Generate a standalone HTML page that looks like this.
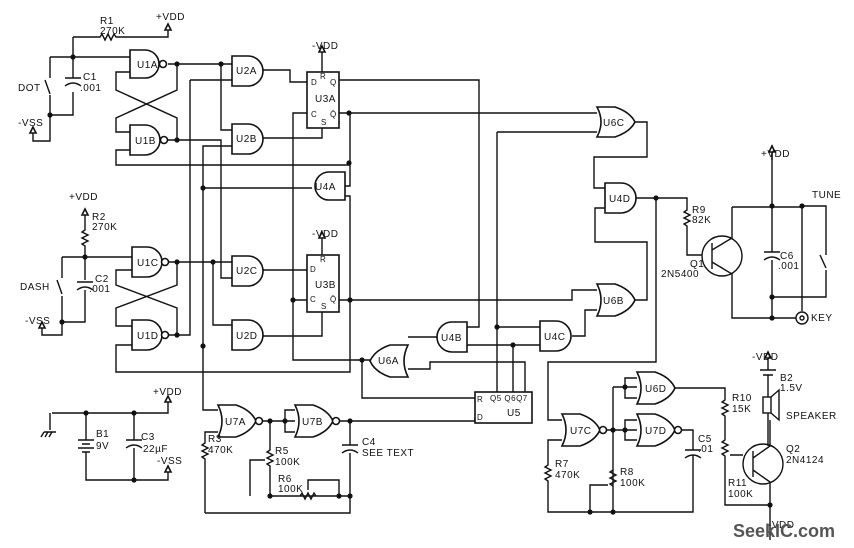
<!DOCTYPE html>
<html><head><meta charset="utf-8"><style>
html,body{margin:0;padding:0;background:#fff;}
svg{display:block;}
text{font-family:"Liberation Sans",sans-serif;font-size:10px;fill:#111;letter-spacing:0.5px;}
.w{fill:none;stroke:#111;stroke-width:1.4;}
.g{fill:#fff;stroke:#111;stroke-width:1.6;}
</style></head><body>
<svg width="854" height="548" viewBox="0 0 854 548" xmlns="http://www.w3.org/2000/svg">
<g class="w">
<!-- DOT section -->
<path d="M73,37 H100 l2,-3 3,6 3,-6 3,6 3,-6 2,3 H168 V30"/>
<path d="M73,37 V57 M50,57 H130 M50,57 V78 M50,95 V115 H73 V92 M73,57 V78 M50,115 V141 H33 V133"/>
<path d="M45,80 L50,94"/>
<path d="M65,78 H81 M65,86 Q73,80 81,86"/>
<!-- cross coupling U1A/U1B -->
<path d="M130,72 H116 V90 L177,118 V140 M177,64 V90 L116,118 V132 H130 M130,150 H116 V165 H350"/>
<path d="M168,64 H232 M221,64 V130 H232 M263,70 H290 V82 H307"/>
<path d="M168,140 H221 V278 H232 M263,138 H322 V128"/>
<path d="M190,80 H232 M190,80 V335 H168"/>
<path d="M232,146 H203 V410 H218 M203,188 H312"/>
<path d="M345,186 H350 V113 M339,113 H597 M339,80 H479 V327 H467"/>
<path d="M345,196 H350 V300"/>
<path d="M307,113 H293 V360 H370 M293,300 H307"/>
<!-- DASH section -->
<path d="M85,215 V230 l-3,2 6,3 -6,3 6,3 -6,3 3,2 V257 M62,257 H132 M62,257 V278 M62,296 V322 H85 V290 M85,257 V280 M62,322 V335 H42 V328"/>
<path d="M57,280 L62,294"/>
<path d="M77,282 H93 M77,290 Q85,284 93,290"/>
<path d="M132,270 H116 V285 L177,308 V335 M177,262 V285 L116,308 V326 H132 M132,345 H116 V372 H350 V300"/>
<path d="M168,262 H232 M213,262 V325 H232 M263,270 H307 M263,336 H322 V312"/>
<path d="M339,300 H572 V290 H597"/>
<!-- U6A, U4B, U4C, U5 -->
<path d="M362,360 V398 H475 M408,337 H437 M408,369 H430 V362 H525 V392"/>
<path d="M467,345 H540 M513,345 V392 M497,132 H597 M497,132 V392 M497,327 H540"/>
<path d="M572,336 H585 V310 H597"/>
<!-- U6C/U4D/U6B chain -->
<path d="M635,122 H647 V157 H594 V188 H605 M605,208 H595 V242 H647 V300 H635"/>
<path d="M636,198 H687 V210 l-3,2 6,3 -6,3 6,3 -6,3 3,2 V255 H702 M656,198 V362 H548 V420 H562"/>
<!-- Q1 -->
<circle cx="722" cy="256" r="20"/>
<path d="M712,243 V269 M712,250 L732,238 V207 M712,262 L732,274 V318 H796 M732,207 H802 M772,150 V252 M764,252 H780 M764,260 Q772,254 780,260 M772,260 V318 M772,297 H826 V270 M826,255 V206 H802 V311 M820,255 L826,268"/>
<path d="M772,160 V145"/>
<circle cx="802" cy="318" r="6"/>
<circle cx="802" cy="318" r="2"/>
<!-- U7A/U7B oscillator -->
<path d="M261,421 H295 M285,421 V432 H295 M285,421 V410 H295 M338,421 H475 V418 M350,421 V445 M342,445 H358 M342,453 Q350,447 358,453 M350,453 V513 H205 M218,432 H205 V443 l-3,2 6,3 -6,3 6,3 -6,3 3,2 V513"/>
<path d="M270,421 V450 l-3,2 6,3 -6,3 6,3 -6,3 3,2 V496 H350 M250,496 V460 H265 M300,496 l2,-3 3,6 3,-6 3,6 3,-6 2,3 M308,490 V480 H339 V496"/>
<!-- battery -->
<path d="M52,413 H168 V402 M50,413 V430 M44,432 H56 M44,432 l-3,5 M48,432 l-3,5 M52,432 l-3,5 M86,413 V440 M78,440 H94 M82,444 H90 M78,448 H94 M82,452 H90 M86,452 V480 H168 V472 M134,413 V440 M126,440 H142 M126,448 Q134,442 142,448 M134,448 V480"/>
<!-- U7C/U7D/U6D -->
<path d="M606,430 H637 M613,387 V512 M613,387 H637 M625,387 V378 H637 M625,387 V398 H637 M625,430 V420 H637 M625,430 V440 H637 M562,440 H548 V465 l-3,2 6,3 -6,3 6,3 -6,3 3,2 V512 H693 V455 M681,430 H693 V450 M685,450 H701 M685,458 Q693,452 701,458 M590,512 V485 H608 M613,470 l-3,2 6,3 -6,3 6,3 -6,3 3,2"/>
<path d="M675,388 H725 V400 l-3,2 6,3 -6,3 6,3 -6,3 3,2 V440 l-3,2 6,3 -6,3 6,3 -6,3 3,2 V505 H770 M730,455 H743"/>
<circle cx="763" cy="464" r="20"/>
<path d="M753,451 V477 M753,458 L770,446 V420 M753,470 L770,482 V540 M768,370 V360 M760,370 H776 M763,375 H773 M768,375 V397"/>
<rect x="763" y="397" width="8" height="16"/>
<path d="M771,397 L779,390 V420 L771,413 M768,413 V446"/>
<path d="M768,360 V352"/>
</g>
<!-- arrows (supply symbols) -->
<g class="g">
<path d="M165,30 L168,24 L171,30 Z M319,52 L322,46 L325,52 Z M319,238 L322,232 L325,238 Z M82,215 L85,209 L88,215 Z M30,133 L33,127 L36,133 Z M39,328 L42,322 L45,328 Z M165,402 L168,396 L171,402 Z M165,472 L168,466 L171,472 Z M769,152 L772,146 L775,152 Z M765,358 L768,352 L771,358 Z"/>
</g>
<path class="w" d="M322,52 V72 M322,238 V255"/>
<!-- gates -->
<g class="g">
<path d="M130,50 H145 A14,14 0 0 1 145,78 H130 Z"/><circle cx="163" cy="64" r="3.5"/>
<path d="M130,125 H145 A15,15 0 0 1 145,155 H130 Z"/><circle cx="164" cy="140" r="3.5"/>
<path d="M132,247 H147 A15,15 0 0 1 147,277 H132 Z"/><circle cx="165" cy="262" r="3.5"/>
<path d="M132,320 H147 A15,15 0 0 1 147,350 H132 Z"/><circle cx="165" cy="335" r="3.5"/>
<path d="M232,56 H248 A15,15 0 0 1 248,86 H232 Z"/>
<path d="M232,124 H248 A15,15 0 0 1 248,154 H232 Z"/>
<path d="M232,256 H248 A15,15 0 0 1 248,286 H232 Z"/>
<path d="M232,320 H248 A15,15 0 0 1 248,350 H232 Z"/>
<path d="M345,172 H329 A14,14 0 0 0 329,200 H345 Z"/>
<path d="M467,322 H452 A15,15 0 0 0 452,352 H467 Z"/>
<path d="M540,321 H556 A15,15 0 0 1 556,351 H540 Z"/>
<path d="M605,183 H621 A15,15 0 0 1 621,213 H605 Z"/>
<path d="M408,345 Q400,361 408,377 H390 Q375,372 370,361 Q375,350 390,345 Z"/>
<path d="M597,107 Q605,122 597,137 H615 Q630,132 635,122 Q630,112 615,107 Z"/>
<path d="M597,284 Q605,300 597,316 H615 Q630,311 635,300 Q630,289 615,284 Z"/>
<path d="M218,405 Q226,421 218,437 H236 Q251,432 256,421 Q251,410 236,405 Z"/><circle cx="259" cy="421" r="3.5"/>
<path d="M295,405 Q303,421 295,437 H313 Q328,432 333,421 Q328,410 313,405 Z"/><circle cx="336" cy="421" r="3.5"/>
<path d="M562,414 Q570,430 562,446 H580 Q595,441 600,430 Q595,419 580,414 Z"/><circle cx="603" cy="430" r="3.5"/>
<path d="M637,372 Q645,388 637,404 H655 Q670,399 675,388 Q670,377 655,372 Z"/>
<path d="M637,414 Q645,430 637,446 H655 Q670,441 675,430 Q670,419 655,414 Z"/><circle cx="678" cy="430" r="3.5"/>
<rect x="307" y="72" width="32" height="56"/>
<rect x="307" y="255" width="32" height="57"/>
<rect x="475" y="392" width="57" height="31"/>
</g>
<!-- nodes -->
<g fill="#111">
<circle cx="73" cy="57" r="2.6"/><circle cx="50" cy="115" r="2.6"/><circle cx="177" cy="64" r="2.6"/><circle cx="221" cy="64" r="2.6"/><circle cx="177" cy="140" r="2.6"/><circle cx="349" cy="113" r="2.6"/><circle cx="349" cy="163" r="2.6"/><circle cx="203" cy="188" r="2.6"/>
<circle cx="85" cy="257" r="2.6"/><circle cx="62" cy="322" r="2.6"/><circle cx="177" cy="262" r="2.6"/><circle cx="213" cy="262" r="2.6"/><circle cx="177" cy="335" r="2.6"/><circle cx="293" cy="300" r="2.6"/><circle cx="350" cy="300" r="2.6"/><circle cx="203" cy="346" r="2.6"/><circle cx="362" cy="360" r="2.6"/>
<circle cx="497" cy="327" r="2.6"/><circle cx="513" cy="345" r="2.6"/><circle cx="656" cy="198" r="2.6"/>
<circle cx="772" cy="206" r="2.6"/><circle cx="802" cy="206" r="2.6"/><circle cx="772" cy="297" r="2.6"/><circle cx="772" cy="318" r="2.6"/>
<circle cx="86" cy="413" r="2.6"/><circle cx="134" cy="413" r="2.6"/><circle cx="134" cy="480" r="2.6"/>
<circle cx="270" cy="421" r="2.6"/><circle cx="285" cy="421" r="2.6"/><circle cx="350" cy="421" r="2.6"/><circle cx="270" cy="496" r="2.6"/><circle cx="339" cy="496" r="2.6"/><circle cx="350" cy="496" r="2.6"/>
<circle cx="613" cy="430" r="2.6"/><circle cx="625" cy="430" r="2.6"/><circle cx="625" cy="387" r="2.6"/><circle cx="590" cy="512" r="2.6"/><circle cx="613" cy="512" r="2.6"/><circle cx="770" cy="505" r="2.6"/>
</g>
<!-- labels -->
<text x="100" y="24">R1</text><text x="100" y="34">270K</text><text x="156" y="20">+VDD</text>
<text x="83" y="80">C1</text><text x="80" y="91">.001</text><text x="18" y="91">DOT</text><text x="18" y="126">-VSS</text>
<text x="137" y="68">U1A</text><text x="135" y="144">U1B</text><text x="236" y="74">U2A</text><text x="236" y="142">U2B</text>
<text x="312" y="49">-VDD</text><text x="311" y="85" style="font-size:8px">D</text><text x="320" y="79" style="font-size:8px">R</text><text x="330" y="85" style="font-size:8px">Q</text><text x="315" y="102">U3A</text><text x="311" y="117" style="font-size:8px">C</text><text x="330" y="117" style="font-size:8px">Q̄</text><text x="321" y="125" style="font-size:8px">S</text>
<text x="315" y="190">U4A</text>
<text x="69" y="200">+VDD</text><text x="92" y="220">R2</text><text x="92" y="230">270K</text><text x="95" y="282">C2</text><text x="89" y="292">.001</text><text x="20" y="290">DASH</text><text x="25" y="324">-VSS</text>
<text x="137" y="266">U1C</text><text x="137" y="339">U1D</text><text x="236" y="274">U2C</text><text x="236" y="339">U2D</text>
<text x="312" y="237">-VDD</text><text x="310" y="272" style="font-size:8px">D</text><text x="320" y="262" style="font-size:8px">R</text><text x="315" y="288">U3B</text><text x="310" y="302" style="font-size:8px">C</text><text x="330" y="302" style="font-size:8px">Q̄</text><text x="321" y="309" style="font-size:8px">S</text>
<text x="378" y="364">U6A</text><text x="441" y="341">U4B</text><text x="544" y="340">U4C</text>
<text x="477" y="402" style="font-size:8px">R</text><text x="490" y="401" style="font-size:8px">Q5 Q6Q7</text><text x="477" y="420" style="font-size:8px">D</text><text x="507" y="416">U5</text>
<text x="603" y="126">U6C</text><text x="609" y="202">U4D</text><text x="603" y="304">U6B</text>
<text x="692" y="213">R9</text><text x="692" y="223">82K</text><text x="690" y="267">Q1</text><text x="661" y="277">2N5400</text>
<text x="761" y="157">+VDD</text><text x="812" y="198">TUNE</text><text x="780" y="259">C6</text><text x="778" y="269">.001</text><text x="811" y="321">KEY</text>
<text x="153" y="395">+VDD</text><text x="96" y="437">B1</text><text x="96" y="449">9V</text><text x="141" y="440">C3</text><text x="143" y="452">22µF</text><text x="157" y="464">-VSS</text>
<text x="225" y="425">U7A</text><text x="302" y="425">U7B</text><text x="208" y="442">R3</text><text x="208" y="453">470K</text>
<text x="275" y="454">R5</text><text x="275" y="465">100K</text><text x="278" y="482">R6</text><text x="278" y="492">100K</text>
<text x="362" y="445">C4</text><text x="362" y="456">SEE TEXT</text>
<text x="570" y="434">U7C</text><text x="645" y="392">U6D</text><text x="645" y="434">U7D</text>
<text x="555" y="467">R7</text><text x="555" y="478">470K</text><text x="620" y="475">R8</text><text x="620" y="486">100K</text>
<text x="698" y="442">C5</text><text x="698" y="452">.01</text>
<text x="732" y="401">R10</text><text x="732" y="412">15K</text><text x="728" y="486">R11</text><text x="728" y="497">100K</text>
<text x="752" y="360">-VDD</text><text x="780" y="381">B2</text><text x="780" y="391">1.5V</text><text x="786" y="419">SPEAKER</text>
<text x="786" y="452">Q2</text><text x="786" y="463">2N4124</text><text x="768" y="528">-VDD</text>
<text x="733" y="537" style="font-size:18px;font-weight:bold;fill:#555;letter-spacing:0">SeekIC.com</text>
</svg>
</body></html>
